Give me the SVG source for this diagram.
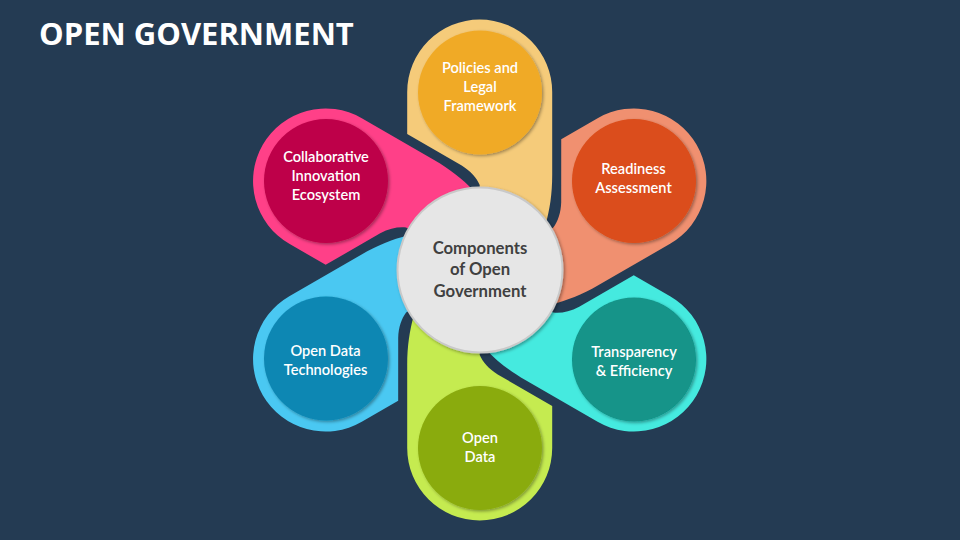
<svg xmlns="http://www.w3.org/2000/svg" xmlns:xlink="http://www.w3.org/1999/xlink" width="960" height="540" viewBox="0 0 960 540">
<style>
.t{font-family:"Lato","Open Sans","Liberation Sans",sans-serif;font-size:14.6px;font-weight:600;fill:#fff;text-anchor:middle}
.c{font-family:"Lato","Open Sans","Liberation Sans",sans-serif;font-size:16.7px;font-weight:700;fill:#404040;text-anchor:middle}
.h{font-family:"Open Sans","Liberation Sans",sans-serif;font-size:31px;font-weight:700;fill:#fff}
</style>
<defs>
<path id="petal" d="M-72.500-178A72.500 72.500 0 0 1 72.500-178V-95C72.500-76 70-60 66-46L0 0 0-85C-3-92-9-99-18-104.500L-72.500-136Z"/>
<filter id="s" x="-20%" y="-20%" width="140%" height="140%"><feDropShadow dx="1.500" dy="1.500" stdDeviation="1.500" flood-color="#000" flood-opacity=".35"/></filter>
</defs>
<rect width="960" height="540" fill="#243B53"/>
<text class="h" x="39" y="45">OPEN GOVERNMENT</text>
<g id="node-policies">
<use xlink:href="#petal" href="#petal" transform="translate(479.700 270)" fill="#F5CB7A"/>
<circle cx="480" cy="92.500" r="62" fill="#F0AA28" filter="url(#s)"/>
<text class="t" x="480" y="73">Policies and</text><text class="t" x="480" y="92">Legal</text><text class="t" x="480" y="111">Framework</text>
</g>
<g id="node-readiness">
<use xlink:href="#petal" href="#petal" transform="translate(479.700 270) rotate(60)" fill="#F09070"/>
<circle cx="634" cy="181" r="62" fill="#DB4D1A" filter="url(#s)"/>
<text class="t" x="633.500" y="174">Readiness</text><text class="t" x="633.500" y="193">Assessment</text>
</g>
<g id="node-transparency">
<use xlink:href="#petal" href="#petal" transform="translate(479.700 270) rotate(120)" fill="#45EADF"/>
<circle cx="634" cy="359.500" r="62" fill="#129489" filter="url(#s)"/>
<text class="t" x="634" y="357">Transparency</text><text class="t" x="634" y="376">&amp; Efficiency</text>
</g>
<g id="node-open-data">
<use xlink:href="#petal" href="#petal" transform="translate(479.700 270) rotate(180)" fill="#C5EB50"/>
<circle cx="480" cy="448" r="62" fill="#8AAB0F" filter="url(#s)"/>
<text class="t" x="480" y="443">Open</text><text class="t" x="480" y="462">Data</text>
</g>
<g id="node-technologies">
<use xlink:href="#petal" href="#petal" transform="translate(479.700 270) rotate(240)" fill="#4AC8F2"/>
<circle cx="326" cy="358.500" r="62" fill="#0D87B3" filter="url(#s)"/>
<text class="t" x="325.500" y="356">Open Data</text><text class="t" x="325.500" y="375">Technologies</text>
</g>
<g id="node-collaborative">
<use xlink:href="#petal" href="#petal" transform="translate(479.700 270) rotate(300)" fill="#FF4088"/>
<circle cx="326" cy="181" r="62" fill="#BE0048" filter="url(#s)"/>
<text class="t" x="326" y="162">Collaborative</text><text class="t" x="326" y="181">Innovation</text><text class="t" x="326" y="200">Ecosystem</text>
</g>
<g id="node-center">
<circle cx="480" cy="270" r="82.500" fill="#E6E6E6" stroke="#C9C9C9" stroke-width="2" filter="url(#s)"/>
<text class="c" x="480" y="254">Components</text><text class="c" x="480" y="275">of Open</text><text class="c" x="480" y="297">Government</text>
</g>
<g id="connectors"/>
</svg>
